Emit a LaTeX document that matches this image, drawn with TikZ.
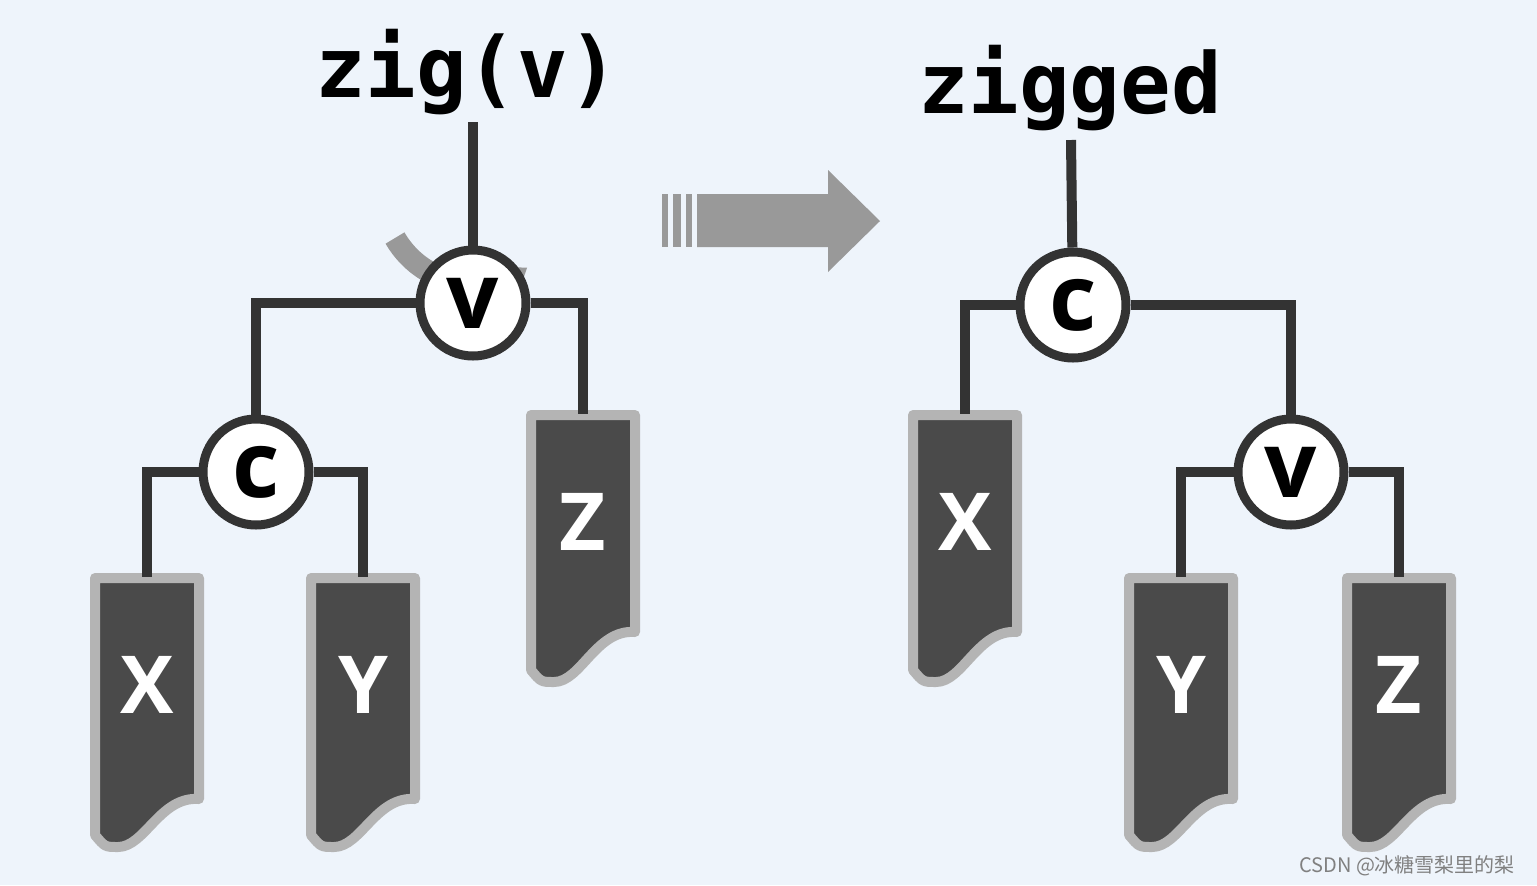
\documentclass[tikz,border=0pt]{standalone}
\usepackage{fontspec}
\setmainfont{Open Sans}
\newfontfamily\monof{DejaVu Sans Mono}
\newfontfamily\cjk{Noto Sans CJK SC}
\usetikzlibrary{arrows.meta}
\definecolor{bg}{HTML}{EEF4FB}
\definecolor{edge}{HTML}{333333}
\definecolor{tfill}{HTML}{4A4A4A}
\definecolor{tborder}{HTML}{B4B4B4}
\definecolor{garrow}{HTML}{999999}
\tikzset{
  e/.style={draw=edge,line width=5pt},
  vert/.style={circle,draw=edge,line width=4.5pt,fill=white,minimum size=53pt,inner sep=0pt,font=\fontsize{46}{46}\bfseries},
  lbl/.style={text=white,font=\fontsize{40}{40}\bfseries},
  title/.style={font=\monof\fontsize{42}{42}\bfseries},
}
% #1 name, #2 left, #3 top, #4 right-bottom offset, #5 left bottom offset, #6 label
\newcommand{\subtr}[6]{%
  \draw[draw=tborder,line width=5pt,fill=tfill,line join=round]
    (#2+5,#3+5) -- (#2+109,#3+5) -- (#2+109,#3+#4)
    .. controls (#2+70,#3+#4-3) and (#2+55,#3+#5) .. (#2+28,#3+#5)
    .. controls (#2+15,#3+#5) .. (#2+5,#3+#5-12) -- cycle;
  \coordinate (#1) at (#2+57,#3+4);
  \node[lbl] (#1l) at (#2+57,#3+112) {#6};
}
\begin{document}
\begin{tikzpicture}[x=0.5pt,y=-0.5pt]
\fill[bg] (0,0) rectangle (1537,885);
\useasboundingbox (0,0) rectangle (1537,885);
% titles
\node[title] (t1) at (467,72) {zig(v)};
\node[title] (t2) at (1070,88) {zigged};
% rotation arrow
\draw[garrow,line width=11pt,-{Triangle[length=22pt,width=30pt]}] (395,238) arc[start angle=150,end angle=55,radius=92];
% big arrow
\fill[garrow] (662,194) rectangle (668,247);
\fill[garrow] (673,194) rectangle (681,247);
\fill[garrow] (686,194) rectangle (692,247);
\fill[garrow] (697,194) -- (828,194) -- (828,170) -- (880,221) -- (828,272) -- (828,247) -- (697,247) -- cycle;
% left tree
\subtr{Zl}{526}{410}{222}{272}{Z}
\subtr{Xl}{90}{573}{226}{274}{X}
\subtr{Yl}{306}{573}{226}{274}{Y}
\coordinate (top1) at (473,122);
\node[vert] (v1) at (473,303) {v};
\node[vert] (c1) at (256,472) {c};
\draw[e] (top1) -- (v1);
\draw[e] (v1.west) -| (c1.north);
\draw[e] (v1.east) -| (Zl);
\draw[e] (c1.west) -| (Xl);
\draw[e] (c1.east) -| (Yl);
% right tree
\subtr{Xr}{908}{410}{222}{272}{X}
\subtr{Yr}{1124}{573}{226}{274}{Y}
\subtr{Zr}{1342}{573}{226}{274}{Z}
\coordinate (top2) at (1071,140);
\node[vert] (c2) at (1073,305) {c};
\node[vert] (v2) at (1291,472) {v};
\draw[e] (top2) -- (c2);
\draw[e] (c2.west) -| (Xr);
\draw[e] (c2.east) -| (v2.north);
\draw[e] (v2.west) -| (Yr);
\draw[e] (v2.east) -| (Zr);
% watermark
\node[anchor=east,text=gray,font=\cjk\fontsize{9}{9}] (wm) at (1522,866) {CSDN @冰糖雪梨里的梨};
\end{tikzpicture}
\end{document}
